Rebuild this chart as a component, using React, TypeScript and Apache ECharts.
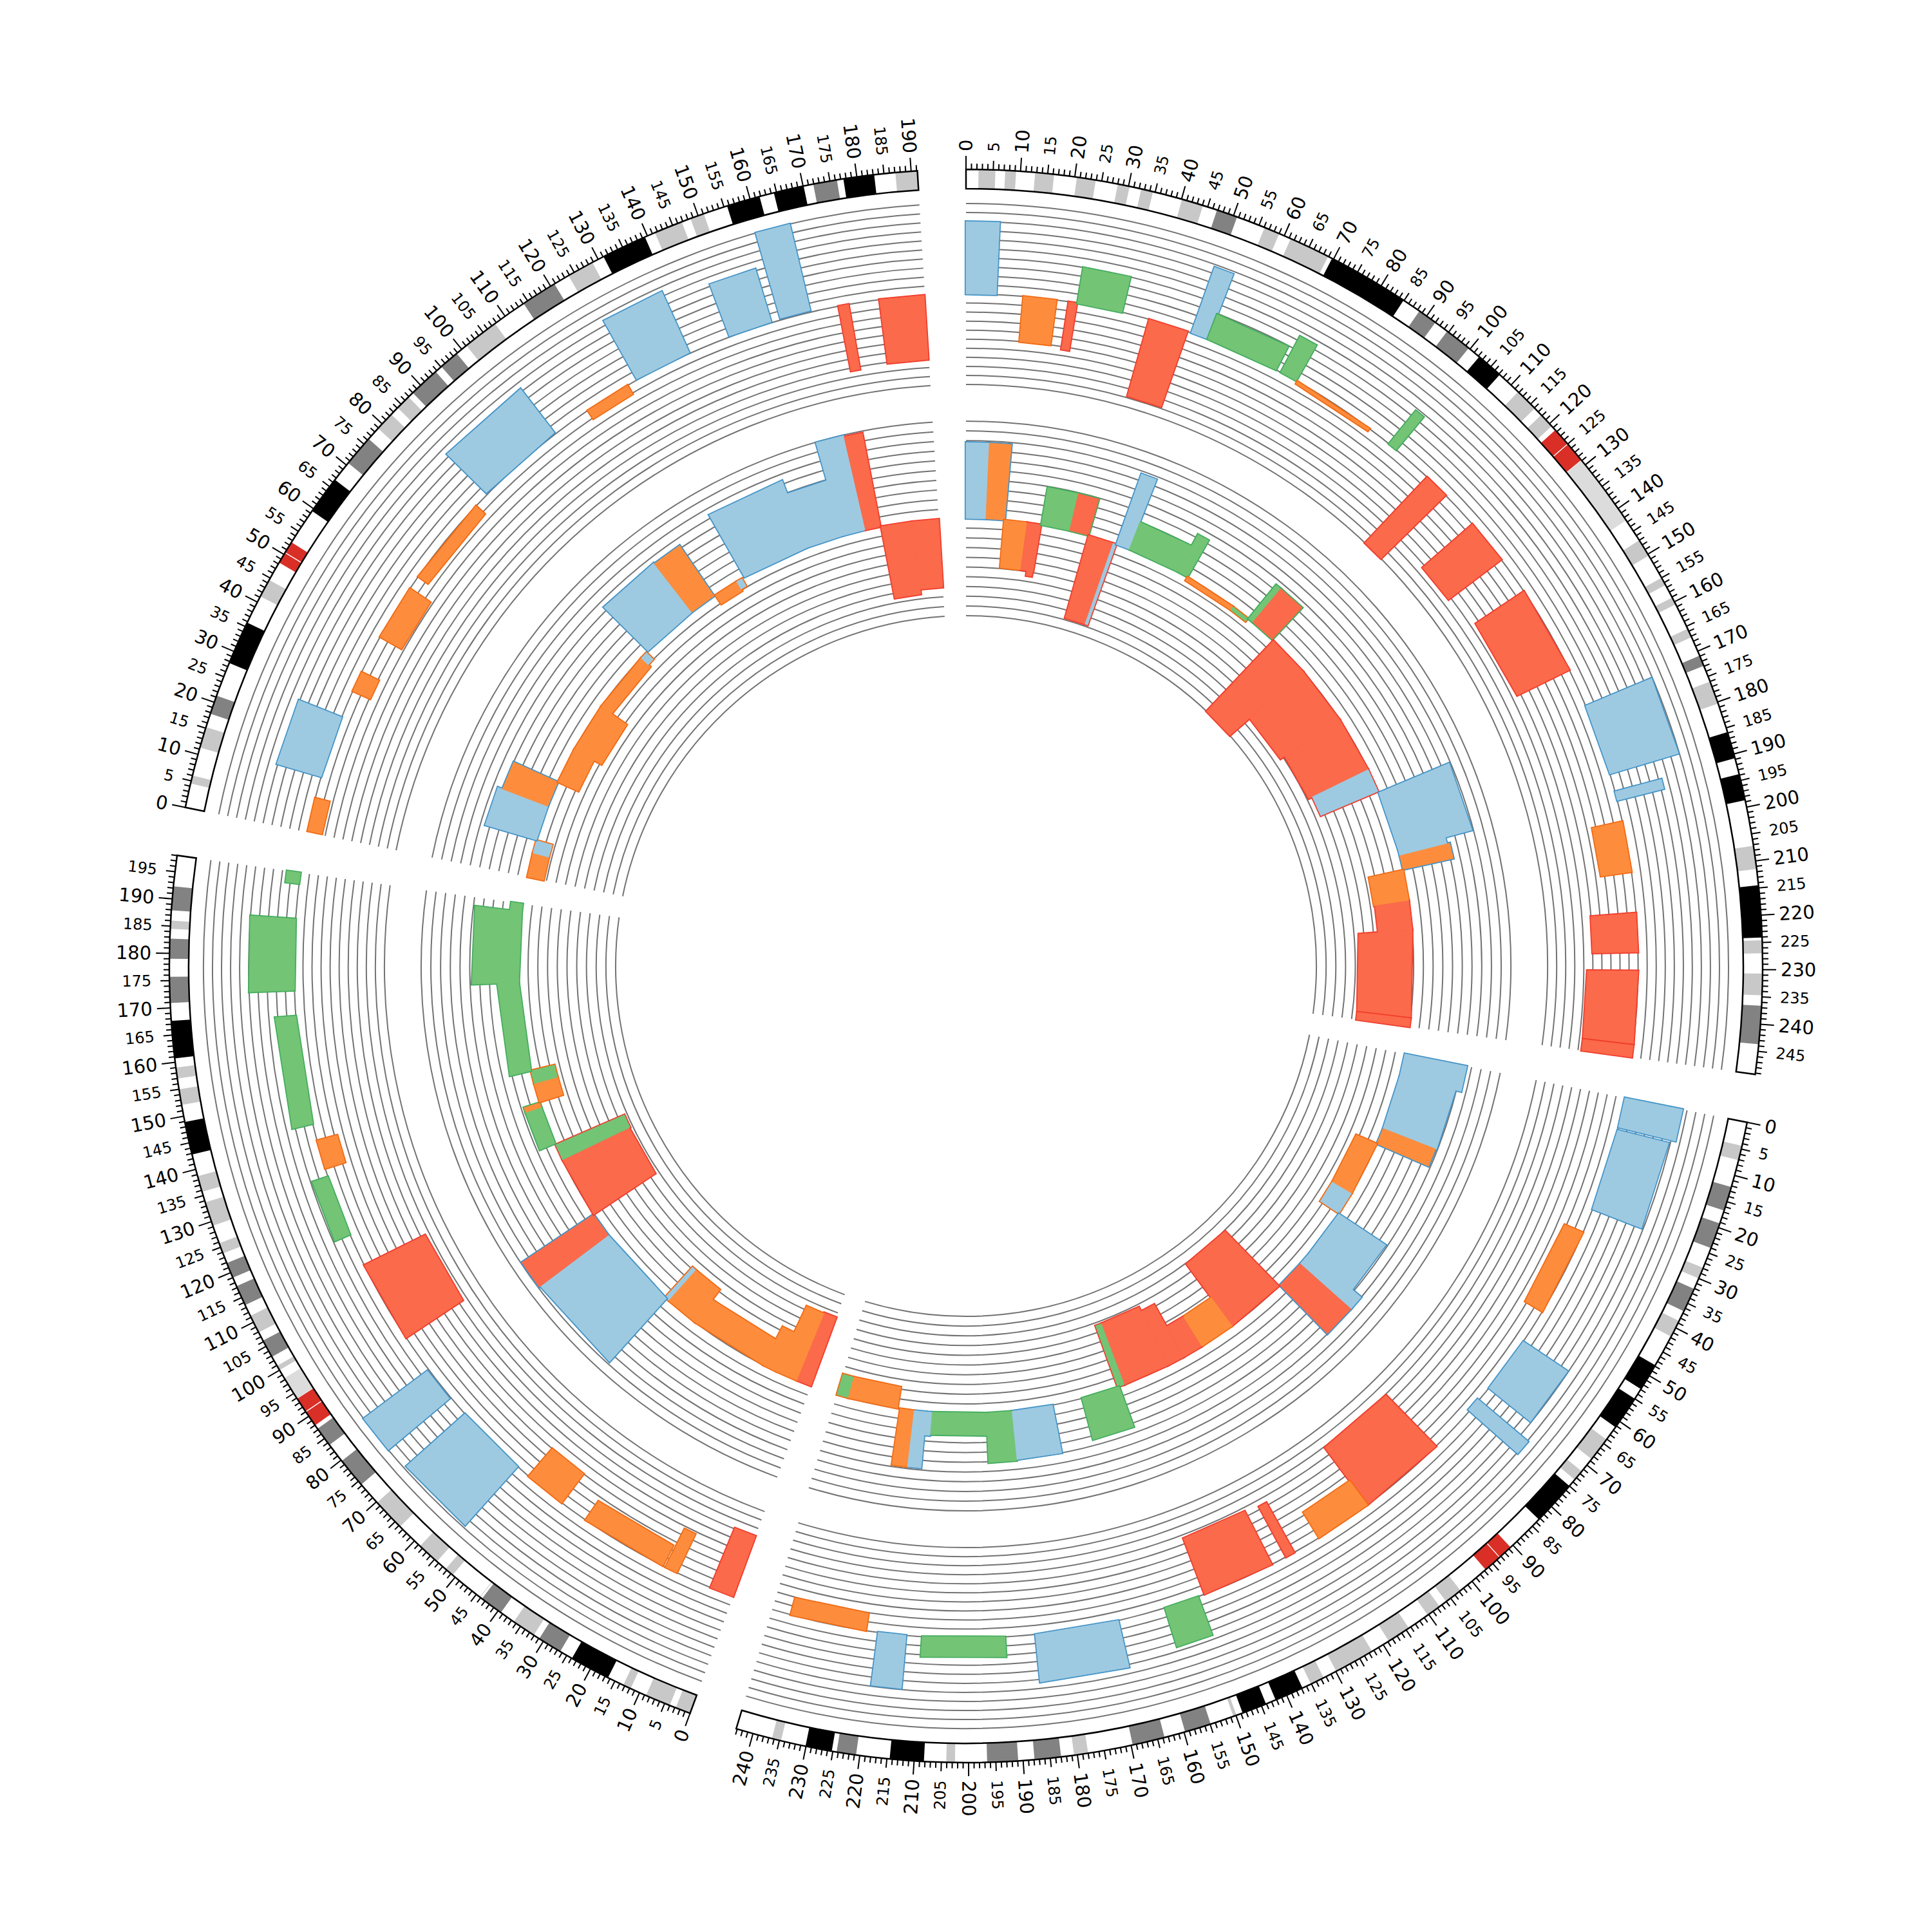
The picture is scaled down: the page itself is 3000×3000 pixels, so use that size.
import React, { useEffect, useRef } from "react";
import * as echarts from "echarts";

// ---------------- data ----------------
const CHROM_NAMES = ["chr1", "chr2", "chr3", "chr4"];
const CHROM_LENGTHS = [249.25, 243.2, 198.02, 191.15]; // Mb
const GAP_MB = 8.918; // space between chromosomes (Mb equivalent)
const TICK_STEP = 1;
const LABEL_STEP = 5;
const MAJOR_STEP = 10;

// cytobands (non-gneg) [start, end, stain]
const chr1Bands: [number, number, string][] = [
  [2.3, 5.4, "gpos25"], [7.2, 9.2, "gpos25"], [12.7, 16.2, "gpos50"], [20.4, 23.9, "gpos25"],
  [28.0, 30.2, "gpos25"], [32.4, 34.6, "gpos25"], [40.1, 44.1, "gpos25"], [46.8, 50.7, "gpos75"],
  [56.1, 59.0, "gpos50"], [61.3, 68.9, "gpos50"], [69.7, 84.9, "gpos100"], [88.4, 92.0, "gpos75"],
  [94.7, 99.7, "gpos75"], [102.2, 107.2, "gpos100"], [111.8, 116.1, "gpos50"], [117.8, 120.6, "gpos50"],
  [121.5, 125.0, "acen"], [125.0, 128.9, "acen"], [128.9, 142.6, "gvar"], [147.0, 150.3, "gpos50"],
  [155.0, 156.5, "gpos50"], [159.1, 160.5, "gpos50"], [165.5, 167.2, "gpos50"], [170.9, 172.9, "gpos75"],
  [176.0, 180.3, "gpos50"], [185.8, 190.8, "gpos100"], [193.8, 198.7, "gpos100"], [207.2, 211.5, "gpos25"],
  [214.5, 224.1, "gpos100"], [224.6, 227.0, "gpos25"], [230.7, 234.7, "gpos50"], [236.6, 243.7, "gpos75"],
];
const chr2Bands: [number, number, string][] = [
  [4.4, 7.1, "gpos50"], [12.2, 16.7, "gpos75"], [19.2, 24.0, "gpos75"], [27.9, 30.0, "gpos25"],
  [32.1, 36.6, "gpos75"], [38.6, 41.8, "gpos50"], [47.8, 52.9, "gpos100"], [55.0, 61.3, "gpos100"],
  [64.1, 68.6, "gpos50"], [71.5, 73.5, "gpos50"], [75.0, 83.3, "gpos100"], [90.5, 93.3, "acen"],
  [93.3, 96.8, "acen"], [102.7, 106.0, "gpos50"], [107.5, 110.2, "gpos25"], [114.4, 118.8, "gpos50"],
  [122.4, 129.9, "gpos50"], [132.5, 135.1, "gpos25"], [136.8, 142.2, "gpos100"], [144.1, 148.7, "gpos100"],
  [149.9, 150.5, "gpos25"], [154.9, 159.8, "gpos75"], [163.7, 169.7, "gpos75"], [178.0, 180.6, "gpos50"],
  [183.0, 187.9, "gpos75"], [190.9, 196.6, "gpos75"], [202.5, 204.1, "gpos50"], [208.2, 214.5, "gpos100"],
  [220.7, 224.3, "gpos75"], [225.2, 230.1, "gpos100"], [234.7, 236.4, "gpos50"],
];
const chr3Bands: [number, number, string][] = [
  [0, 2.8, "gpos50"], [4.0, 8.7, "gpos50"], [11.8, 13.3, "gpos25"], [16.4, 23.9, "gpos100"],
  [26.4, 30.9, "gpos75"], [32.1, 36.5, "gpos50"], [39.4, 43.7, "gpos75"], [44.1, 44.2, "gpos50"],
  [50.6, 52.3, "gpos25"], [54.4, 58.6, "gpos50"], [63.7, 69.8, "gpos50"], [74.2, 79.8, "gpos75"],
  [83.5, 87.2, "gpos75"], [87.9, 91.0, "acen"], [91.0, 93.9, "acen"], [93.9, 98.3, "gvar"],
  [100.0, 100.9, "gpos25"], [102.8, 106.2, "gpos75"], [107.9, 111.3, "gpos50"], [113.5, 117.3, "gpos75"],
  [119.0, 121.9, "gpos75"], [123.8, 125.8, "gpos25"], [129.2, 133.7, "gpos25"], [135.7, 138.7, "gpos25"],
  [142.8, 148.9, "gpos100"], [152.1, 155.0, "gpos50"], [157.0, 159.0, "gpos50"], [160.7, 167.6, "gpos100"],
  [170.9, 175.7, "gpos75"], [179.0, 182.7, "gpos75"], [184.5, 186.0, "gpos25"], [187.9, 192.3, "gpos75"],
];
const chr4Bands: [number, number, string][] = [
  [4.5, 6.0, "gpos25"], [11.3, 15.2, "gpos50"], [17.8, 21.3, "gpos75"], [27.7, 35.8, "gpos100"],
  [41.2, 44.6, "gpos50"], [48.2, 50.4, "acen"], [50.4, 52.7, "acen"], [59.5, 66.6, "gpos100"],
  [70.5, 76.3, "gpos75"], [78.9, 82.4, "gpos50"], [84.1, 86.9, "gpos25"], [88.0, 93.7, "gpos75"],
  [95.1, 98.8, "gpos75"], [101.1, 107.7, "gpos50"], [114.1, 120.8, "gpos75"], [123.8, 128.8, "gpos50"],
  [131.1, 139.5, "gpos100"], [141.5, 146.8, "gpos25"], [148.5, 151.1, "gpos25"], [155.6, 161.8, "gpos100"],
  [164.5, 170.1, "gpos100"], [171.9, 176.3, "gpos75"], [177.5, 183.2, "gpos100"], [187.1, 191.15, "gpos25"],
];

// blocks: each entry is one merged region = list of [startMb, endMb, rowFrom, rowTo, fill, edge]
type Rect = [number, number, number, number, string, string];
const chr1Outer: Rect[][] = [
  [[0, 6.6, 2, 10, "B", "B"]],
  [[12.5, 19.7, 10, 15, "O", "O"]],
  [[22.4, 24.2, 10, 15.3, "R", "R"]],
  [[24.3, 34.2, 6, 10, "G", "G"]],
  [[40.3, 49, 10, 18.8, "R", "R"]],
  [[49.9, 53.8, 2.3, 10, "B", "B"]],
  [[53.7, 70, 7.1, 10, "G", "G"]],
  [[71.2, 75, 5.5, 10, "G", "G"]],
  [[75.3, 94, 10, 10.3, "O", "O"]],
  [[99.4, 101.4, 5.3, 10, "G", "G"]],
  [[110.4, 116, 10, 20, "R", "R"]],
  [[124.6, 134.5, 10, 17.3, "R", "R"]],
  [[143, 162.7, 10, 16.4, "R", "R"]],
  [[171.3, 187, 2.1, 10, "B", "B"]],
  [[191, 193, 4.7, 10, "B", "B"]],
  [[197.7, 208.8, 10, 13.4, "O", "O"]],
  [[217.8, 226.3, 10, 15, "R", "R"]],
  [[230.4, 246.3, 10, 15.6, "R", "R"]],
  [[246.6, 249.2, 10, 15.6, "R", "R"]],
];
const chr1Inner: Rect[][] = [
  [[0, 6.5, 2.2, 10, "B", "B"], [6.5, 12.7, 2.2, 10, "O", "B"]],
  [[12.5, 20, 10, 14.9, "O", "O"], [20, 24.6, 10, 14.9, "R", "R"], [22.3, 24.4, 14.9, 15.4, "R", "R"]],
  [[24.7, 34.1, 6.1, 10, "G", "G"], [34.1, 40.5, 6.1, 10, "R", "G"]],
  [[40.5, 48.9, 10, 18.8, "R", "R"], [48.9, 50, 10, 18.8, "B", "R"]],
  [[50, 54.5, 2.3, 10, "B", "B"], [54.5, 72, 7, 10, "G", "G"], [72, 75.6, 5.65, 10, "G", "G"]],
  [[75.6, 93.3, 10, 10.4, "O", "O"], [93.3, 99.5, 10, 10.4, "G", "O"]],
  [[99.7, 101.5, 5.5, 10, "G", "G"], [101.5, 110, 5.5, 10, "R", "G"]],
  [[110.5, 124.5, 10, 20, "R", "R"], [124.5, 144.3, 10, 17.3, "R", "R"], [144.3, 163, 10, 16.8, "R", "R"], [163, 170.8, 10, 16.4, "B", "R"]],
  [[171.3, 191, 2.15, 10, "B", "B"], [191, 193, 5, 10, "B", "B"], [193, 197.6, 4.7, 10, "O", "B"]],
  [[197.8, 208, 10, 13.6, "O", "O"], [208, 217.5, 10, 13.5, "R", "R"], [217.5, 246.3, 10, 15.5, "R", "R"]],
  [[246.5, 249.2, 10, 15.5, "R", "R"]],
];
const chr2Outer: Rect[][] = [
  [[0, 6.5, 3.5, 10, "B", "B"]],
  [[7.2, 25.2, 4.2, 10, "B", "B"]],
  [[30.7, 50, 10, 12.2, "O", "O"]],
  [[57.7, 70.3, 4.1, 10, "B", "B"]],
  [[73.7, 76.8, 2.9, 10.2, "B", "B"]],
  [[87.4, 107, 10, 17.9, "R", "R"]],
  [[107, 119.7, 10, 13.3, "O", "O"]],
  [[126, 128, 10, 16.3, "R", "R"]],
  [[131.5, 147.5, 10, 16.6, "R", "R"]],
  [[149, 156.6, 5.5, 10, "G", "G"]],
  [[167.1, 185.4, 4.7, 10, "B", "B"]],
  [[192, 210, 7.8, 10, "G", "G"]],
  [[213.5, 219.6, 4.1, 10, "B", "B"]],
  [[222.3, 239, 10, 11.9, "O", "O"]],
];
const chr2Inner: Rect[][] = [
  [[0, 7.4, 3.5, 10, "B", "B"], [7.4, 25.4, 4.1, 10, "B", "B"], [25.4, 30.8, 4.2, 10, "O", "B"]],
  [[30.8, 49, 10, 12.3, "O", "O"], [49, 56.7, 10, 12.3, "B", "O"]],
  [[56.8, 73, 4.2, 10, "B", "B"], [73, 77.4, 3, 10, "B", "B"], [77.4, 87.1, 3, 10, "R", "B"]],
  [[87.5, 107.5, 10, 17.9, "R", "R"], [107.5, 119.6, 10, 13.6, "O", "O"], [119.6, 126.4, 10, 13.6, "R", "R"], [126.4, 132, 10, 16.2, "R", "R"], [132, 147.7, 10, 16.7, "R", "R"], [147.7, 150, 10, 16.7, "G", "R"]],
  [[149.5, 162.2, 5.6, 10, "G", "G"]],
  [[172.1, 185.6, 5, 10, "B", "B"], [185.6, 193.8, 4.9, 10, "G", "G"], [193.8, 211.7, 7.7, 10, "G", "G"], [211.7, 213.5, 7.6, 10, "B", "B"], [213.5, 217.6, 4.2, 10, "B", "B"], [217.6, 222, 4.2, 10, "O", "O"]],
  [[222.9, 239.5, 10, 12.2, "O", "O"], [239.5, 243.2, 10, 12.2, "G", "O"]],
];
const chr3Outer: Rect[][] = [
  [[0, 5.3, 10, 17.1, "R", "R"]],
  [[13.3, 16, 10, 14.7, "O", "O"]],
  [[16.7, 36.2, 10, 12.5, "O", "O"]],
  [[42.6, 51.8, 10, 14, "O", "O"]],
  [[55, 71.2, 1.3, 10, "B", "B"]],
  [[75.9, 83.6, 1, 9.8, "B", "B"]],
  [[92.1, 110.3, 10, 17.5, "R", "R"]],
  [[117.7, 131.1, 8.2, 10, "G", "G"]],
  [[133, 139.3, 10, 12.3, "O", "O"]],
  [[143.1, 166.8, 7.7, 10, "G", "G"]],
  [[172.4, 187.9, 5, 10, "G", "G"]],
  [[195.6, 198, 8.5, 10, "G", "G"]],
];
const chr3Inner: Rect[][] = [
  [[0, 5, 10, 17.5, "R", "R"], [5, 12.3, 10, 17.4, "O", "O"], [12.3, 17, 10, 14.4, "O", "O"], [17, 43.3, 10, 12.9, "O", "O"], [43.3, 54.5, 10, 14.2, "O", "O"], [54.5, 56, 10, 14.2, "B", "O"]],
  [[55.4, 83.5, 1.25, 10, "B", "B"], [83.5, 91.8, 1.1, 10, "R", "B"]],
  [[91.8, 112.3, 10, 17.6, "R", "R"], [112.3, 117.7, 10, 17.7, "G", "R"]],
  [[118.2, 130.8, 8.3, 10, "G", "G"], [130.8, 132.4, 8.3, 10, "O", "G"]],
  [[132.6, 138.9, 10, 12.5, "O", "O"], [138.9, 143.2, 10, 12.5, "G", "O"]],
  [[143.2, 172.3, 7.8, 10, "G", "G"], [172.3, 195.4, 5.2, 10, "G", "G"], [195.4, 198, 8.8, 10, "G", "G"]],
];
const chr4Outer: Rect[][] = [
  [[0.3, 7.6, 10, 11.6, "O", "O"]],
  [[12.4, 26.1, 4.9, 10, "B", "B"]],
  [[32.3, 36.8, 10, 12.1, "O", "O"]],
  [[45.5, 57.8, 10, 12.7, "O", "O"]],
  [[61, 80.8, 10, 11.3, "O", "O"]],
  [[84.4, 104.1, 3.7, 9.8, "B", "B"]],
  [[112.8, 123, 10, 11.1, "O", "O"]],
  [[125.4, 138.2, 2.5, 9.9, "B", "B"]],
  [[147.6, 157.2, 3.8, 9.9, "B", "B"]],
  [[159.3, 166, 0, 9.8, "B", "B"]],
  [[172.2, 174.4, 10, 17.3, "R", "R"]],
  [[181.2, 191, 10, 17.1, "R", "R"]],
];
const chr4Inner: Rect[][] = [
  [[0, 8, 10, 11.7, "O", "O"], [8, 12.3, 10, 11.7, "B", "O"]],
  [[12.4, 24, 4.5, 10, "B", "B"], [24, 32.6, 5, 10, "O", "B"]],
  [[32.6, 44.5, 10, 12.3, "O", "O"], [44.5, 61, 10, 13.2, "O", "O"], [61, 81.5, 10, 11.3, "O", "O"], [81.5, 84, 10, 11, "B", "O"]],
  [[84.7, 103.8, 3.6, 10, "B", "B"], [103.8, 112.8, 3.7, 10, "O", "B"]],
  [[113.3, 121.5, 10, 11.1, "O", "O"], [121.5, 123.5, 10, 10.9, "B", "O"]],
  [[124.5, 147.2, 2.65, 10, "B", "B"], [147.2, 159.3, 4.1, 10, "B", "B"], [159.3, 167, 0.05, 10, "B", "B"], [167, 172, 0.2, 10, "R", "R"]],
  [[172.2, 182.4, 10, 17.5, "R", "R"], [182.4, 191.15, 10, 17, "R", "R"]],
];

// ---------------- styles / layout ----------------
const STAIN_COLORS: Record<string, string> = {
  gneg: "#FFFFFF", gpos25: "#C8C8C8", gpos50: "#C8C8C8", gpos75: "#828282",
  gpos100: "#000000", gvar: "#DCDCDC", acen: "#D92F27",
};
const BLOCK_COLORS: Record<string, [string, string]> = {
  B: ["#9ecae1", "#4292c6"],
  O: ["#fd8d3c", "#f16913"],
  G: ["#74c476", "#41ab5d"],
  R: ["#fb6a4a", "#ef3b2c"],
};
const RMAX = 1300;
const IDEO_IN = 1207;
const IDEO_OUT = 1237;
const TICK_LEN = { minor: 9, mid: 14, major: 21 };
const LABEL_R = 1265;
const FONT = "DejaVu Sans";
const TRACKS: Record<string, { top: number; step: number }> = {
  outer: { top: 1184, step: 14.05 },
  inner: { top: 846, step: 15.1 },
};
const GRID_LINES = 21;

const BANDS = [chr1Bands, chr2Bands, chr3Bands, chr4Bands];
const BLOCKS: { outer: Rect[][]; inner: Rect[][] }[] = [
  { outer: chr1Outer, inner: chr1Inner },
  { outer: chr2Outer, inner: chr2Inner },
  { outer: chr3Outer, inner: chr3Inner },
  { outer: chr4Outer, inner: chr4Inner },
];

const OFFSETS: number[] = [];
let acc = 0;
CHROM_LENGTHS.forEach((l) => { OFFSETS.push(acc); acc += l + GAP_MB; });
const TOTAL = acc;

// ---------------- helpers ----------------
function rad(api: any, cs: any, v: number, g: number) {
  const p = api.coord([v, g]);
  return Math.hypot(p[0] - cs.cx, p[1] - cs.cy);
}
function angles(api: any, cs: any, r: number, g0: number, g1: number) {
  const p0 = api.coord([r, g0]);
  const p1 = api.coord([r, g1]);
  const a0 = Math.atan2(p0[1] - cs.cy, p0[0] - cs.cx);
  let a1 = Math.atan2(p1[1] - cs.cy, p1[0] - cs.cx);
  if (a1 < a0 - 1e-9) a1 += Math.PI * 2;
  return [a0, a1];
}

const bandItems = BANDS.flatMap((bands, ci) => bands.map((b) => ({ ci, s: b[0], e: b[1], stain: b[2] })));
const gridItems = CHROM_LENGTHS.flatMap((_, ci) => ["outer", "inner"].map((tr) => ({ ci, tr })));
const unionItems = ["outer", "inner"].flatMap((tr) =>
  BLOCKS.flatMap((b, ci) => (b as any)[tr].map((rects: Rect[]) => ({ ci, tr, rects })))
);

function buildOption() {
  const base = { type: "custom", coordinateSystem: "polar", polarIndex: 0, silent: true, animation: false };
  return {
    animation: false,
    backgroundColor: "#ffffff",
    polar: { center: ["50%", "50%"], radius: RMAX },
    angleAxis: {
      type: "value", min: 0, max: TOTAL, startAngle: 90, clockwise: true,
      axisLine: { show: false }, axisTick: { show: false }, axisLabel: { show: false }, splitLine: { show: false },
    },
    radiusAxis: {
      type: "value", min: 0, max: RMAX,
      axisLine: { show: false }, axisTick: { show: false }, axisLabel: { show: false }, splitLine: { show: false },
    },
    series: [
      // cytobands
      {
        ...base,
        data: bandItems.map((b) => [IDEO_OUT, OFFSETS[b.ci] + b.s]),
        renderItem: (params: any, api: any) => {
          const b = bandItems[params.dataIndex];
          const cs = params.coordSys;
          const g0 = OFFSETS[b.ci] + b.s, g1 = OFFSETS[b.ci] + b.e;
          const [a0, a1] = angles(api, cs, IDEO_OUT, g0, g1);
          const isAcen = b.stain === "acen";
          return {
            type: "sector",
            shape: { cx: cs.cx, cy: cs.cy, r0: rad(api, cs, IDEO_IN, g0), r: rad(api, cs, IDEO_OUT, g0), startAngle: a0, endAngle: a1, clockwise: true },
            style: isAcen
              ? { fill: STAIN_COLORS[b.stain], stroke: "#ffffff", lineWidth: 1.2 }
              : { fill: STAIN_COLORS[b.stain] },
          };
        },
      },
      // ideogram outline
      {
        ...base,
        data: CHROM_LENGTHS.map((_, ci) => [IDEO_OUT, OFFSETS[ci]]),
        renderItem: (params: any, api: any) => {
          const ci = params.dataIndex;
          const cs = params.coordSys;
          const g0 = OFFSETS[ci], g1 = OFFSETS[ci] + CHROM_LENGTHS[ci];
          const [a0, a1] = angles(api, cs, IDEO_OUT, g0, g1);
          return {
            type: "sector",
            shape: { cx: cs.cx, cy: cs.cy, r0: rad(api, cs, IDEO_IN, g0), r: rad(api, cs, IDEO_OUT, g0), startAngle: a0, endAngle: a1, clockwise: true },
            style: { fill: "none", stroke: "#000000", lineWidth: 2.5 },
          };
        },
      },
      // ticks + labels
      {
        ...base,
        data: CHROM_LENGTHS.map((_, ci) => [IDEO_OUT, OFFSETS[ci]]),
        renderItem: (params: any, api: any) => {
          const ci = params.dataIndex;
          const cs = params.coordSys;
          const off = OFFSETS[ci];
          const children: any[] = [];
          for (let m = 0; m <= CHROM_LENGTHS[ci]; m += TICK_STEP) {
            const len = m % MAJOR_STEP === 0 ? TICK_LEN.major : m % LABEL_STEP === 0 ? TICK_LEN.mid : TICK_LEN.minor;
            const p0 = api.coord([IDEO_OUT, off + m]);
            const p1 = api.coord([IDEO_OUT + len, off + m]);
            children.push({
              type: "line",
              shape: { x1: p0[0], y1: p0[1], x2: p1[0], y2: p1[1] },
              style: { stroke: "#000000", lineWidth: 2 },
            });
          }
          for (let m = 0; m <= CHROM_LENGTHS[ci]; m += LABEL_STEP) {
            const p = api.coord([LABEL_R, off + m]);
            let th = Math.atan2(p[0] - cs.cx, -(p[1] - cs.cy));
            if (th < 0) th += Math.PI * 2;
            const flip = th > Math.PI + 1e-6;
            const rot = flip ? 1.5 * Math.PI - th : 0.5 * Math.PI - th;
            children.push({
              type: "text",
              x: p[0], y: p[1], rotation: rot,
              style: {
                text: String(m),
                fontFamily: FONT,
                fontSize: m % MAJOR_STEP === 0 ? 29 : 24,
                fill: "#000000",
                align: flip ? "right" : "left",
                verticalAlign: "middle",
              },
            });
          }
          return { type: "group", children };
        },
      },
      // track grid lines
      {
        ...base,
        data: gridItems.map((g) => [TRACKS[g.tr].top, OFFSETS[g.ci]]),
        renderItem: (params: any, api: any) => {
          const g = gridItems[params.dataIndex];
          const cs = params.coordSys;
          const t = TRACKS[g.tr];
          const g0 = OFFSETS[g.ci], g1 = OFFSETS[g.ci] + CHROM_LENGTHS[g.ci];
          const children: any[] = [];
          for (let k = 0; k < GRID_LINES; k++) {
            const rv = t.top - k * t.step;
            const [a0, a1] = angles(api, cs, rv, g0, g1);
            children.push({
              type: "arc",
              shape: { cx: cs.cx, cy: cs.cy, r: rad(api, cs, rv, g0), startAngle: a0, endAngle: a1, clockwise: true },
              style: { fill: "none", stroke: "#737373", lineWidth: 2 },
            });
          }
          return { type: "group", children };
        },
      },
      // blocks
      {
        ...base,
        data: unionItems.map((u) => [TRACKS[u.tr].top, OFFSETS[u.ci] + u.rects[0][0]]),
        renderItem: (params: any, api: any) => {
          const u = unionItems[params.dataIndex];
          const t = TRACKS[u.tr];
          const off = OFFSETS[u.ci];
          const polys = u.rects.map((r: Rect) => {
            const ro = t.top - r[2] * t.step;
            const ri = t.top - r[3] * t.step;
            const pts = [
              api.coord([ro, off + r[0]]), api.coord([ro, off + r[1]]),
              api.coord([ri, off + r[1]]), api.coord([ri, off + r[0]]),
            ].map((p: number[]) => [p[0], p[1]]);
            return { pts, fill: BLOCK_COLORS[r[4]][0], edge: BLOCK_COLORS[r[5]][1] };
          });
          const children: any[] = [];
          polys.forEach((p: any) => children.push({
            type: "polygon", shape: { points: p.pts },
            style: { fill: p.fill, stroke: p.edge, lineWidth: 4.2, lineJoin: "miter" },
          }));
          polys.forEach((p: any) => children.push({
            type: "polygon", shape: { points: p.pts },
            style: { fill: p.fill, stroke: p.fill, lineWidth: 0.8 },
          }));
          return { type: "group", children };
        },
      },
    ],
  };
}

export default function App() {
  const ref = useRef<HTMLDivElement>(null);
  useEffect(() => {
    if (!ref.current) return;
    const chart = echarts.init(ref.current, null, { renderer: "svg", width: 3000, height: 3000 });
    chart.setOption(buildOption() as any);
    return () => chart.dispose();
  }, []);
  return (
    <div
      ref={ref}
      data-chroms={CHROM_NAMES.join(",")}
      style={{ position: "absolute", left: 0, top: 0, width: 3000, height: 3000, background: "#ffffff" }}
    />
  );
}
